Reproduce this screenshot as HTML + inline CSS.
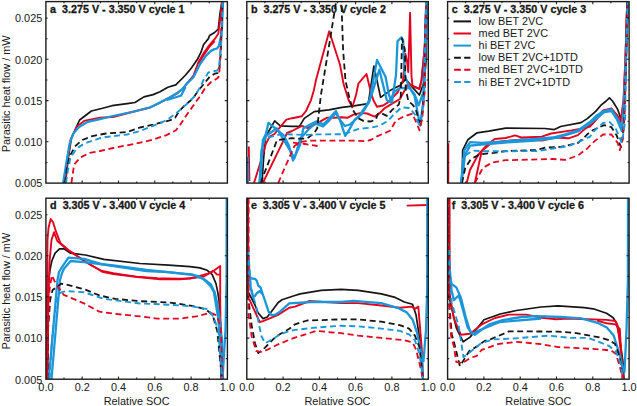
<!DOCTYPE html>
<html><head><meta charset="utf-8"><title>Parasitic heat flow</title>
<style>html,body{margin:0;padding:0;background:#fff;}body{width:637px;height:406px;overflow:hidden;font-family:"Liberation Sans",sans-serif;}svg{display:block;}</style>
</head><body>
<svg width="637" height="406" viewBox="0 0 637 406">
<rect width="637" height="406" fill="#fff"/>
<defs>
<clipPath id="cpa"><rect x="45.9" y="1.6" width="181.5" height="181.5"/></clipPath>
<clipPath id="cpb"><rect x="246.8" y="1.6" width="181.5" height="181.5"/></clipPath>
<clipPath id="cpc"><rect x="447.6" y="1.6" width="181.5" height="181.5"/></clipPath>
<clipPath id="cpd"><rect x="45.9" y="198.2" width="181.5" height="181"/></clipPath>
<clipPath id="cpe"><rect x="246.8" y="198.2" width="181.5" height="181"/></clipPath>
<clipPath id="cpf"><rect x="447.6" y="198.2" width="181.5" height="181"/></clipPath>
</defs>
<g clip-path="url(#cpa)">
<polyline points="65.5,183 68,160 71.4,138.2 79.6,120 91.4,111 101.6,108.5 112,105.7 129,103.4 135,102.5 143.9,96.9 153.1,94.6 160,91.7 167.9,87.3 175.8,84.9 185.6,75 191.2,68.2 197.3,59.6 201,52.2 203.5,44.8 205.9,41.7 208.4,38.6 209.6,35.5 214.6,32.5 218.3,29 220,13.3 222.2,0" fill="none" stroke="#151515" stroke-width="1.7" stroke-linejoin="round"/>
<polyline points="65,183 67.5,160 70.5,140 76.9,126.4 84.1,120.9 100,117.6 113,117 134,111.5 150,107.5 160,102.6 169.9,97.7 176.7,93.7 182.7,88.8 186.6,83.9 193.5,75.5 198.5,62 203.5,53.4 209.6,44.8 214.6,39.2 218.3,33.7 220.4,17.7 222.2,0" fill="none" stroke="#e4031f" stroke-width="1.9" stroke-linejoin="round"/>
<polyline points="198.5,63.5 203.5,55.5 209.6,46.5 214.6,41" fill="none" stroke="#e4031f" stroke-width="1.9" stroke-linejoin="round"/>
<polyline points="63.2,183 66,165 69.6,143.7 73.2,133.7 78.7,127.3 87.8,121.8 100,119.1 113,116 134,111.5 150,107.5 160,102.6 169.9,97.3 176.7,93.3 182.7,88.8 186.6,83.9 193.6,77 199.8,64.5 205.9,55.9 210.9,50.9 214.6,49.1 217,48.5 218.9,46 220.7,37.4 222,28 223,0" fill="none" stroke="#1b97d9" stroke-width="2.3" stroke-linejoin="round"/>
<polyline points="167,100 175,97.5 181,95.7 185.5,87" fill="none" stroke="#1b97d9" stroke-width="2.3" stroke-linejoin="round"/>
<polyline points="65,183 67,168 69.6,156.4 75,146.4 82.3,140 91.4,136.4 100,134.6 106.2,133.5 127,132 140,127.5 153.1,124.7 170.5,120.1 175.1,117.8 179,111.5 185,105 192.5,99 198,91 203,85 209.6,76.8 214.6,73.7 217.6,73.1 219.5,67 220.7,54.6 221.7,30 222.5,0" fill="none" stroke="#151515" stroke-width="1.8" stroke-dasharray="6 3.6" stroke-linejoin="round"/>
<polyline points="71.4,183 74.1,164.6 80.5,157.4 89.6,152.8 100,151 113,148 134,144 152.5,139.8 166.4,135.1 175.7,130.5 180,125 186.6,115 193,106 200,96.2 205.5,87.6 211.1,82 216.6,78.7 218.3,77.5 219.5,70.6 220.5,50 221.8,15 222.6,0" fill="none" stroke="#e4031f" stroke-width="1.8" stroke-dasharray="6 3.6" stroke-linejoin="round"/>
<polyline points="66,183 68,170 70.5,157.4 76.9,148.3 84.1,143.7 100,138.2 106,137 127,134.5 140,131 153.1,125.9 167,120.1 177,112.5 187.9,103 194.8,96 200,87.5 203.5,80 208.4,72.5 213.3,71.3 217,70.6 218.9,68.2 220.1,54.6 221.3,42.3 222.3,10 222.8,0" fill="none" stroke="#1b97d9" stroke-width="1.9" stroke-dasharray="6 3.6" stroke-linejoin="round"/>
</g>
<rect x="45.9" y="1.6" width="181.5" height="181.5" fill="none" stroke="#1c1c1c" stroke-width="1.4"/>
<path d="M64 183.1v-1.6M64 1.6v1.6M82.2 183.1v-2.6M82.2 1.6v2.6M100.3 183.1v-1.6M100.3 1.6v1.6M118.5 183.1v-2.6M118.5 1.6v2.6M136.7 183.1v-1.6M136.7 1.6v1.6M154.8 183.1v-2.6M154.8 1.6v2.6M172.9 183.1v-1.6M172.9 1.6v1.6M191.1 183.1v-2.6M191.1 1.6v2.6M209.2 183.1v-1.6M209.2 1.6v1.6M45.9 162.5h1.6M227.4 162.5h-1.6M45.9 141.8h2.6M227.4 141.8h-2.6M45.9 121.2h1.6M227.4 121.2h-1.6M45.9 100.6h2.6M227.4 100.6h-2.6M45.9 80h1.6M227.4 80h-1.6M45.9 59.3h2.6M227.4 59.3h-2.6M45.9 38.7h1.6M227.4 38.7h-1.6M45.9 18.1h1.6M227.4 18.1h-1.6" stroke="#1c1c1c" stroke-width="1.1" fill="none"/>
<text x="50.1" y="12.7" font-family='"Liberation Sans", sans-serif' font-size="10.75" font-weight="bold" fill="#171717" stroke="#171717" stroke-width="0.3" xml:space="preserve">a  3.275 V - 3.350 V cycle 1</text>
<text x="42.3" y="187.4" text-anchor="end" font-family='"Liberation Sans", sans-serif' font-size="10.9" fill="#171717">0.005</text>
<text x="42.3" y="146.2" text-anchor="end" font-family='"Liberation Sans", sans-serif' font-size="10.9" fill="#171717">0.010</text>
<text x="42.3" y="104.9" text-anchor="end" font-family='"Liberation Sans", sans-serif' font-size="10.9" fill="#171717">0.015</text>
<text x="42.3" y="63.6" text-anchor="end" font-family='"Liberation Sans", sans-serif' font-size="10.9" fill="#171717">0.020</text>
<text x="42.3" y="22.4" text-anchor="end" font-family='"Liberation Sans", sans-serif' font-size="10.9" fill="#171717">0.025</text>
<g clip-path="url(#cpb)">
<polyline points="262,183 263.5,160 265.5,137 274.7,120.9 280.3,125.9 292,126.4 299.4,126.4 304.3,118.4 314.2,111.6 328.9,109.8 342,107.3 352.3,106.1 368.3,103.6 373.9,66 380.6,97.4 390,90.6 400.2,85.3 405.7,79.1 412.5,87.4 419.4,95 423.6,83.3 426.3,60 427,0" fill="none" stroke="#151515" stroke-width="1.7" stroke-linejoin="round"/>
<polyline points="248.8,146.4 249.4,181" fill="none" stroke="#e4031f" stroke-width="1.9" stroke-linejoin="round"/>
<polyline points="254,183 259.7,164.8 265.9,143.9 269.6,136.5 274.5,134 279,128.3 286.4,119.7 292,118.2 301.9,116.2 306,111 310.8,100.7 313.8,90.4 316,80 329.2,31.3 340,64.8 343.7,84.5 348.6,100 352.3,107.3 356,95 358.5,83.3 366.5,74 369.6,87 373.3,100 377,106.7 383.1,105.5 388,102.4 398,92 403,80 405.4,53.8 407.1,61.7 408.2,72 410.1,12.8 411.5,76 412.5,86 419.4,88.8 421.5,80.5 424.5,50 426.3,0" fill="none" stroke="#e4031f" stroke-width="1.9" stroke-linejoin="round"/>
<polyline points="262.8,183 281.9,143.9 287,133 292,131 301.9,125.9 307.8,128.1 315.2,124.4 327.1,117.7 335.1,117.8 342,117.2 347.4,117.8 353.5,114.7 360.9,112.9 367.1,113.5 374.5,116.6 379.4,113.5 384.3,108.5 390,104.9 400,99 408.4,83.3 412.5,86 419.4,88.8 421.5,80.5 425.3,40 426.5,0" fill="none" stroke="#e4031f" stroke-width="1.9" stroke-linejoin="round"/>
<polyline points="247.7,157 247.8,183" fill="none" stroke="#1b97d9" stroke-width="2.3" stroke-linejoin="round"/>
<polyline points="260.3,183 262.8,140.2 265.9,134 268.5,122.8 276,129 284,135.7 288.9,145.6 293,160.5 300,145 303.4,128.1 316.7,121.4 323.4,124.4 327.8,120 336,111.1 340.4,121.4 345.2,136 348.6,130.7 354.8,119.6 362.2,113.5 369.6,101.2 377,59.9 385.6,77.1 389,95 391.9,102.5 396,75 397.5,41.3 401.4,37.4 403.1,40.2 404.8,76 409.8,88.1 414.6,96 417.5,112 420.2,125.5 423.1,104 425,70 427,0" fill="none" stroke="#1b97d9" stroke-width="2.3" stroke-linejoin="round"/>
<polyline points="259.5,183 261.5,150 266,136 271.6,132 276.8,128.5 294.5,158 300.4,138.4 308,130 315.2,123.5 323,126.5 327.8,122 333,116.2 336,113 340,120 344.9,126 349.9,124.5 358.5,117 364.6,108 370.8,97.5 379.4,69.7 386.8,100 390,102 394,92 400,88 409.8,88.1 414.6,94.3 418.7,105.3 423.6,91.5 426.5,0" fill="none" stroke="#1b97d9" stroke-width="2.3" stroke-linejoin="round"/>
<polyline points="260.6,183 277,140.2 281.9,139.5 292,138.1 299.4,138.7 306.8,138.7 314.2,133.2 317.2,128.3 320.9,95 330,40 338,-10 341,-10 343.1,50 345.5,80.8 349.9,100 353.5,111 358.5,118.4 363.4,120.9 370.8,121.5 375.7,119.6 378.2,113.5 381.9,113.5 386.8,115.9 391.9,110.1 398.8,104.6 400.8,95.7 402,38.5 404.8,49.3 405.7,88.8 408.4,101.2 412.5,104.6 415.3,108 419.4,121.8 421.5,120.5 424.3,88.8 426,0" fill="none" stroke="#151515" stroke-width="1.8" stroke-dasharray="6 3.6" stroke-linejoin="round"/>
<polyline points="278.2,183 294.2,146.3 300,142 310.5,140.6 342,140.6 352.3,140.6 364.6,141.2 370.8,140 377,136.3 384.3,133.2 390,130.7 396,120.5 402.9,117 407.9,115.2 412.3,113.7 416.6,123.1 419.5,130.3 422.2,119 425,88.8 426,0" fill="none" stroke="#e4031f" stroke-width="1.8" stroke-dasharray="6 3.6" stroke-linejoin="round"/>
<polyline points="293,142.6 305,144 317.6,146" fill="none" stroke="#e4031f" stroke-width="1.8" stroke-dasharray="6 3.6" stroke-linejoin="round"/>
<polyline points="259.5,183 262.5,145 266,138 276,135.5 282,134 304.3,135 316.6,134.4 342,134.2 349.9,132 358.5,128.9 370.8,127.6 379.4,125.8 388,120.9 393.3,115 401.5,107.4 409.8,108 415.3,115 418.7,123.9 421.5,116.3 424.3,94.3 426,0" fill="none" stroke="#1b97d9" stroke-width="1.9" stroke-dasharray="6 3.6" stroke-linejoin="round"/>
</g>
<rect x="246.8" y="1.6" width="181.5" height="181.5" fill="none" stroke="#1c1c1c" stroke-width="1.4"/>
<path d="M264.9 183.1v-1.6M264.9 1.6v1.6M283.1 183.1v-2.6M283.1 1.6v2.6M301.2 183.1v-1.6M301.2 1.6v1.6M319.4 183.1v-2.6M319.4 1.6v2.6M337.5 183.1v-1.6M337.5 1.6v1.6M355.6 183.1v-2.6M355.6 1.6v2.6M373.8 183.1v-1.6M373.8 1.6v1.6M391.9 183.1v-2.6M391.9 1.6v2.6M410.1 183.1v-1.6M410.1 1.6v1.6M246.8 162.5h1.6M428.2 162.5h-1.6M246.8 141.8h2.6M428.2 141.8h-2.6M246.8 121.2h1.6M428.2 121.2h-1.6M246.8 100.6h2.6M428.2 100.6h-2.6M246.8 80h1.6M428.2 80h-1.6M246.8 59.3h2.6M428.2 59.3h-2.6M246.8 38.7h1.6M428.2 38.7h-1.6M246.8 18.1h1.6M428.2 18.1h-1.6" stroke="#1c1c1c" stroke-width="1.1" fill="none"/>
<text x="250.9" y="12.7" font-family='"Liberation Sans", sans-serif' font-size="10.75" font-weight="bold" fill="#171717" stroke="#171717" stroke-width="0.3" xml:space="preserve">b  3.275 V - 3.350 V cycle 2</text>
<g clip-path="url(#cpc)">
<polyline points="462,183 462.5,160 462.7,150.2 467.8,139.8 477.1,132.8 488.7,131.2 505.7,128.1 545,128.5 554.4,129.6 560.6,126.5 581,122.6 587.3,118.6 595.7,111.4 601,105.2 606.2,101 609.4,97.8 612.5,101 617.7,109.4 620.9,118.8 623,111.4 625.1,90.5 627,0" fill="none" stroke="#151515" stroke-width="1.7" stroke-linejoin="round"/>
<polyline points="448.3,143.2 448.3,183" fill="none" stroke="#e4031f" stroke-width="1.9" stroke-linejoin="round"/>
<polyline points="466.7,183 470,170 478,155 487.5,144.4 494.7,139 505.7,138 515.1,135.4 521.4,137.5 541.8,136.7 551.2,133.5 571.6,130.4 584.2,128.1 590,126.5 595,121 603,110.4 611.4,108.3 616.7,114.6 620.9,120.9 623.5,100 625.3,60 627.3,0" fill="none" stroke="#e4031f" stroke-width="1.9" stroke-linejoin="round"/>
<polyline points="474.8,183 481.7,151.3 491,143.2 505,141 523,139.5 541.8,140.6 555.9,137.5 568.5,138.3 577.9,135.1 584.2,129.6 592,124 603,112 611.4,110 617.2,117 620.6,122 623.6,102 625.4,60 627.3,0" fill="none" stroke="#e4031f" stroke-width="1.9" stroke-linejoin="round"/>
<polyline points="460.9,183 463,165 464.4,150.2 470.1,142.1 481.7,142.8 504.9,141.4 521.4,139.8 541.8,138.3 552.8,137.5 565.4,134.3 577.9,130.4 590,122 596,116 603,111.4 611.4,109.4 617.7,118.8 621.9,129.3 624.2,100 625.9,60 627.8,0" fill="none" stroke="#1b97d9" stroke-width="2.3" stroke-linejoin="round"/>
<polyline points="461.5,183 465,155 470.1,145.6 481.7,144.5 504.9,142.5 535,140.5 558.1,137.5 577.9,131.5 590,123.5 604.4,112 611.4,111 617.2,120 621.8,131 624.4,100 626,60 627.8,0" fill="none" stroke="#1b97d9" stroke-width="2.3" stroke-linejoin="round"/>
<polyline points="462,183 465.2,168 470.8,159.2 479.6,154.4 494,152.8 505.7,151.1 537.1,150 545,147.7 560.6,146.9 577.9,143 584.2,137.5 587.3,134.3 592.6,130.3 604.1,125.1 611.4,127.2 616.7,135.6 620.9,147.1 624,126.1 626,60 627.5,0" fill="none" stroke="#151515" stroke-width="1.8" stroke-dasharray="6 3.6" stroke-linejoin="round"/>
<polyline points="474.8,183 482.8,168 492.4,162.4 505.7,160.2 552.8,159 565.4,159.9 577.9,155.5 587.3,148.5 592.6,142.9 603,134.5 611.4,134.5 617.7,142.9 619.8,150.2 623,138.7 625.1,101 626,60 628,0" fill="none" stroke="#e4031f" stroke-width="1.8" stroke-dasharray="6 3.6" stroke-linejoin="round"/>
<polyline points="460.9,183 463.2,157.1 472.5,150.6 484,151.3 537.1,151.1 552.8,148.5 568.5,146.1 577.9,142.2 590,136.7 592.6,132.4 603,123 609.4,121.9 615.6,128.2 621.9,142.9 625.1,121.9 626,60 628,0" fill="none" stroke="#1b97d9" stroke-width="1.9" stroke-dasharray="6 3.6" stroke-linejoin="round"/>
</g>
<rect x="447.6" y="1.6" width="181.5" height="181.5" fill="none" stroke="#1c1c1c" stroke-width="1.4"/>
<path d="M465.7 183.1v-1.6M465.7 1.6v1.6M483.9 183.1v-2.6M483.9 1.6v2.6M502 183.1v-1.6M502 1.6v1.6M520.2 183.1v-2.6M520.2 1.6v2.6M538.3 183.1v-1.6M538.3 1.6v1.6M556.5 183.1v-2.6M556.5 1.6v2.6M574.6 183.1v-1.6M574.6 1.6v1.6M592.8 183.1v-2.6M592.8 1.6v2.6M610.9 183.1v-1.6M610.9 1.6v1.6M447.6 162.5h1.6M629.1 162.5h-1.6M447.6 141.8h2.6M629.1 141.8h-2.6M447.6 121.2h1.6M629.1 121.2h-1.6M447.6 100.6h2.6M629.1 100.6h-2.6M447.6 80h1.6M629.1 80h-1.6M447.6 59.3h2.6M629.1 59.3h-2.6M447.6 38.7h1.6M629.1 38.7h-1.6M447.6 18.1h1.6M629.1 18.1h-1.6" stroke="#1c1c1c" stroke-width="1.1" fill="none"/>
<text x="451.8" y="12.7" font-family='"Liberation Sans", sans-serif' font-size="10.75" font-weight="bold" fill="#171717" stroke="#171717" stroke-width="0.3" xml:space="preserve">c  3.275 V - 3.350 V cycle 3</text>
<g clip-path="url(#cpd)">
<polyline points="47.3,379 47.8,330 48.4,283 50,270 51.8,261 55.1,253.2 59.5,248.8 64,248.8 70.6,253.2 85.4,255 103.9,259.3 140,263.5 168.7,265.1 190,266.6 199.9,267.9 207.2,270.3 212.2,274.6 215.9,283.3 217.7,291.9 219,300 221,330 222.5,379" fill="none" stroke="#151515" stroke-width="1.7" stroke-linejoin="round"/>
<polyline points="46.8,379 47,300 47.5,240 48.5,228 50.7,219 53,222 56.2,232.2 60.6,243.3 68.4,249.9 84,261 92.3,266 102.2,271 113.3,273.3 135.4,276.6 157.6,278.1 177.6,278.8 190,278.5 199.9,275.9 208.5,273.4 213.4,270.9 220.2,266 220.2,300 221,379" fill="none" stroke="#e4031f" stroke-width="1.9" stroke-linejoin="round"/>
<polyline points="47.6,379 48,330 48.4,300 49.5,262 51.5,240 54,232.2 57.3,241 66.2,248.8 84,260.5 102.2,271.8 113.3,274 140,277.3 160,279.2 180.3,279.3 203.4,276.7 213.4,270.9 215.2,272.8 217.1,274.6 220.2,274.6" fill="none" stroke="#e4031f" stroke-width="1.9" stroke-linejoin="round"/>
<polyline points="48.8,379 57.5,280 59,272 61.7,267.6 68.4,257.7 84,258.8 102.2,264.4 146.5,271 168.7,272.1 190,274.6 197.4,275.9 204.8,279.6 210.9,284.5 214.6,291.9 216.5,300 219,315 222,340 223,379" fill="none" stroke="#1b97d9" stroke-width="2.3" stroke-linejoin="round"/>
<polyline points="51.5,379 60,280 62,273 64,268.8 70.6,261 84,262.2 113.3,265.5 146.5,269.9 179.8,273.3 191.9,274.4 203.4,279 210.4,286 213.9,292 218.5,320 222,379" fill="none" stroke="#1b97d9" stroke-width="2.3" stroke-linejoin="round"/>
<polyline points="222.5,379 225.5,330 226.6,280 226.7,198" fill="none" stroke="#1b97d9" stroke-width="2.3" stroke-linejoin="round"/>
<polyline points="47.5,379 48,330 50.2,299.7 52.6,289.9 61.2,283.7 66.2,284.6 85.4,289.6 99.2,295.4 115.4,298.9 140,301.2 168.7,302.4 191.9,305.8 205.8,309.3 212.7,315.1 217.3,331.3 222,379" fill="none" stroke="#151515" stroke-width="1.8" stroke-dasharray="6 3.6" stroke-linejoin="round"/>
<polyline points="47.2,379 48,330 49.5,290 51.8,275.4 54.5,281 57.5,286.2 63.7,294.8 84,303.4 99.2,311.6 115.4,313.9 140,316.3 157.1,318.6 180.3,318.6 196.5,316.3 210.4,312.8 216.2,315.1 220.8,326.7 222.5,379" fill="none" stroke="#e4031f" stroke-width="1.8" stroke-dasharray="6 3.6" stroke-linejoin="round"/>
<polyline points="49.5,379 52,340 55,310 58.8,294.8 61.2,292.3 66.2,291.1 84,292.3 92.3,295 103.9,298.9 140,303.5 168.7,304.7 191.9,306.3 208,309.3 213.9,317.4 218.5,331.3 222,379" fill="none" stroke="#1b97d9" stroke-width="1.9" stroke-dasharray="6 3.6" stroke-linejoin="round"/>
</g>
<rect x="45.9" y="198.2" width="181.5" height="181" fill="none" stroke="#1c1c1c" stroke-width="1.4"/>
<path d="M64 379.2v-1.6M64 198.2v1.6M82.2 379.2v-2.6M82.2 198.2v2.6M100.3 379.2v-1.6M100.3 198.2v1.6M118.5 379.2v-2.6M118.5 198.2v2.6M136.7 379.2v-1.6M136.7 198.2v1.6M154.8 379.2v-2.6M154.8 198.2v2.6M172.9 379.2v-1.6M172.9 198.2v1.6M191.1 379.2v-2.6M191.1 198.2v2.6M209.2 379.2v-1.6M209.2 198.2v1.6M45.9 358.6h1.6M227.4 358.6h-1.6M45.9 338.1h2.6M227.4 338.1h-2.6M45.9 317.5h1.6M227.4 317.5h-1.6M45.9 296.9h2.6M227.4 296.9h-2.6M45.9 276.4h1.6M227.4 276.4h-1.6M45.9 255.8h2.6M227.4 255.8h-2.6M45.9 235.2h1.6M227.4 235.2h-1.6M45.9 214.7h1.6M227.4 214.7h-1.6" stroke="#1c1c1c" stroke-width="1.1" fill="none"/>
<text x="50.1" y="209.3" font-family='"Liberation Sans", sans-serif' font-size="10.75" font-weight="bold" fill="#171717" stroke="#171717" stroke-width="0.3" xml:space="preserve">d  3.305 V - 3.400 V cycle 4</text>
<text x="42.3" y="383.5" text-anchor="end" font-family='"Liberation Sans", sans-serif' font-size="10.9" fill="#171717">0.005</text>
<text x="42.3" y="342.4" text-anchor="end" font-family='"Liberation Sans", sans-serif' font-size="10.9" fill="#171717">0.010</text>
<text x="42.3" y="301.2" text-anchor="end" font-family='"Liberation Sans", sans-serif' font-size="10.9" fill="#171717">0.015</text>
<text x="42.3" y="260.1" text-anchor="end" font-family='"Liberation Sans", sans-serif' font-size="10.9" fill="#171717">0.020</text>
<text x="42.3" y="219" text-anchor="end" font-family='"Liberation Sans", sans-serif' font-size="10.9" fill="#171717">0.025</text>
<text x="45.9" y="391.3" text-anchor="middle" font-family='"Liberation Sans", sans-serif' font-size="10.9" fill="#171717">0.0</text>
<text x="82.2" y="391.3" text-anchor="middle" font-family='"Liberation Sans", sans-serif' font-size="10.9" fill="#171717">0.2</text>
<text x="118.5" y="391.3" text-anchor="middle" font-family='"Liberation Sans", sans-serif' font-size="10.9" fill="#171717">0.4</text>
<text x="154.8" y="391.3" text-anchor="middle" font-family='"Liberation Sans", sans-serif' font-size="10.9" fill="#171717">0.6</text>
<text x="191.1" y="391.3" text-anchor="middle" font-family='"Liberation Sans", sans-serif' font-size="10.9" fill="#171717">0.8</text>
<text x="227.4" y="391.3" text-anchor="middle" font-family='"Liberation Sans", sans-serif' font-size="10.9" fill="#171717">1.0</text>
<text x="136.7" y="404.6" text-anchor="middle" font-family='"Liberation Sans", sans-serif' font-size="10.9" fill="#171717">Relative SOC</text>
<g clip-path="url(#cpe)">
<polyline points="248.2,198 248.3,292.2 251.4,298 255,305 258,312.8 263,318.6 267.3,317 270.6,312.8 278,302.7 282,299.8 294.9,295.5 300.2,293.9 321.1,290.4 341,289.3 358.1,290.4 381.3,293.9 395.2,297.4 404.4,302 412.5,304.3 416,314.7 419.5,337.9 423,379" fill="none" stroke="#151515" stroke-width="1.7" stroke-linejoin="round"/>
<polyline points="248,198 248,298.8 249.7,300.2 254.7,311.1 259.7,322 263.1,321.1 278,314.9 289.3,307.7 295,306.6 309.5,301 341,303.1 358.1,303.1 381.3,305.5 399.8,307.8 411.4,306.6 414.9,308.9 418.3,306.6 421.8,349.4 423,379" fill="none" stroke="#e4031f" stroke-width="1.9" stroke-linejoin="round"/>
<polyline points="406.8,205.6 427,205" fill="none" stroke="#e4031f" stroke-width="1.9" stroke-linejoin="round"/>
<polyline points="248.1,247 248.6,265 249.4,276.7 252,278.5 255,278.9 256.8,280.7 258.3,285.8 260.5,287.3 262.7,294 265.7,302.8 268.6,311.7 271.6,315.4 275.3,314.7 280,311.7 289.3,303.3 311.8,302 341,302 353.5,300.8 381.3,303.1 397.5,307.8 406.8,312.4 412.5,319.4 417.2,333.2 421.8,356.4 423,379" fill="none" stroke="#1b97d9" stroke-width="2.3" stroke-linejoin="round"/>
<polyline points="248.7,262 249.5,275 250.9,289.5 253.1,296.9 254.6,296.2 256.8,293.2 259.8,291 262.2,294" fill="none" stroke="#1b97d9" stroke-width="2.3" stroke-linejoin="round"/>
<polyline points="423.4,362 426,330 427.2,290 427.3,198" fill="none" stroke="#1b97d9" stroke-width="2.3" stroke-linejoin="round"/>
<polyline points="248.2,198 248.3,298.8 251.7,325.4 255,343.2 258.3,353.1 265,347.6 276,336.5 289.3,328.8 295,324.3 307.2,320.5 341,319.4 358.1,319.4 381.3,321.7 399.8,325.1 409.1,328.6 414.9,335.6 419.5,347.1 423,379" fill="none" stroke="#151515" stroke-width="1.8" stroke-dasharray="6 3.6" stroke-linejoin="round"/>
<polyline points="248.6,198 248.4,314.3 251.7,336.5 256.1,350.9 260.5,352 267.2,349.8 278.3,344.3 289.3,339.8 295,337.6 316.4,330.9 341,333.2 358.1,335.6 381.3,337.9 404.4,340.2 412.5,342.5 416,349.4 419.5,363.3 423,379" fill="none" stroke="#e4031f" stroke-width="1.8" stroke-dasharray="6 3.6" stroke-linejoin="round"/>
<polyline points="249,260 250.5,285 253,296 256.4,306.9 257.2,314.4 258.9,324.5 261.6,336.5 265,343.2 269.4,341 280.5,334.3 289.3,331 295,329.9 316.4,327.5 341,325.8 358.1,326.3 381.3,328.6 399.8,330.9 409.1,334.4 414.9,340.2 419.5,354.1 423,379" fill="none" stroke="#1b97d9" stroke-width="1.9" stroke-dasharray="6 3.6" stroke-linejoin="round"/>
</g>
<rect x="246.8" y="198.2" width="181.5" height="181" fill="none" stroke="#1c1c1c" stroke-width="1.4"/>
<path d="M264.9 379.2v-1.6M264.9 198.2v1.6M283.1 379.2v-2.6M283.1 198.2v2.6M301.2 379.2v-1.6M301.2 198.2v1.6M319.4 379.2v-2.6M319.4 198.2v2.6M337.5 379.2v-1.6M337.5 198.2v1.6M355.6 379.2v-2.6M355.6 198.2v2.6M373.8 379.2v-1.6M373.8 198.2v1.6M391.9 379.2v-2.6M391.9 198.2v2.6M410.1 379.2v-1.6M410.1 198.2v1.6M246.8 358.6h1.6M428.2 358.6h-1.6M246.8 338.1h2.6M428.2 338.1h-2.6M246.8 317.5h1.6M428.2 317.5h-1.6M246.8 296.9h2.6M428.2 296.9h-2.6M246.8 276.4h1.6M428.2 276.4h-1.6M246.8 255.8h2.6M428.2 255.8h-2.6M246.8 235.2h1.6M428.2 235.2h-1.6M246.8 214.7h1.6M428.2 214.7h-1.6" stroke="#1c1c1c" stroke-width="1.1" fill="none"/>
<text x="250.9" y="209.3" font-family='"Liberation Sans", sans-serif' font-size="10.75" font-weight="bold" fill="#171717" stroke="#171717" stroke-width="0.3" xml:space="preserve">e  3.305 V - 3.400 V cycle 5</text>
<text x="246.8" y="391.3" text-anchor="middle" font-family='"Liberation Sans", sans-serif' font-size="10.9" fill="#171717">0.0</text>
<text x="283.1" y="391.3" text-anchor="middle" font-family='"Liberation Sans", sans-serif' font-size="10.9" fill="#171717">0.2</text>
<text x="319.4" y="391.3" text-anchor="middle" font-family='"Liberation Sans", sans-serif' font-size="10.9" fill="#171717">0.4</text>
<text x="355.6" y="391.3" text-anchor="middle" font-family='"Liberation Sans", sans-serif' font-size="10.9" fill="#171717">0.6</text>
<text x="391.9" y="391.3" text-anchor="middle" font-family='"Liberation Sans", sans-serif' font-size="10.9" fill="#171717">0.8</text>
<text x="428.2" y="391.3" text-anchor="middle" font-family='"Liberation Sans", sans-serif' font-size="10.9" fill="#171717">1.0</text>
<text x="337.5" y="404.6" text-anchor="middle" font-family='"Liberation Sans", sans-serif' font-size="10.9" fill="#171717">Relative SOC</text>
<g clip-path="url(#cpf)">
<polyline points="449.3,198 449.3,297.8 456.3,327.9 463.2,341.8 470.1,337.1 484,319.8 500.2,314 516.4,310.5 541,307 558.1,305.9 584.3,307.7 593.2,308.8 606.5,313.3 613.2,317.7 616.5,323.3 619.8,338.8 623.1,363.2 624,379" fill="none" stroke="#151515" stroke-width="1.7" stroke-linejoin="round"/>
<polyline points="449.5,198 449.5,293.1 453.9,318.6 460.9,334.8 470.1,333.7 481.7,324.4 495,318 508.8,314.6 526.1,314.6 541.8,317.8 555.9,319.3 568.5,318.5 581.3,319 606.5,319.9 615.4,321 617.6,325.5 620.9,352.1 623.5,379" fill="none" stroke="#e4031f" stroke-width="1.9" stroke-linejoin="round"/>
<polyline points="597,320.5 606.5,323.3 615.4,324.4 619.8,328.8 621,350 622.5,379" fill="none" stroke="#e4031f" stroke-width="1.9" stroke-linejoin="round"/>
<polyline points="448.2,250 448.5,270 451.6,283.9 456.3,287.4 460.9,297.8 465.5,316.3 470.1,331.3 474.8,334.8 484,328 490,324 502.6,320.1 521.4,317 537.1,316.2 560.6,317 581.3,318.4 597.5,322.8 606.8,327.5 613.7,335.6 619.5,354.1 623,369.1 624.5,372 626.5,330 627.9,280 628,198" fill="none" stroke="#1b97d9" stroke-width="2.3" stroke-linejoin="round"/>
<polyline points="449,260 451.6,290.8 453.9,300.1 458.6,295.5 460.9,302.4 467.8,327.9 472.5,333.7 480,330 500,322 541,318.5" fill="none" stroke="#1b97d9" stroke-width="2.3" stroke-linejoin="round"/>
<polyline points="449,198 449.3,304.7 451.8,334.4 453.9,341.8 459.9,366.2 469.5,350.7 477.1,346.4 484.3,341.1 490,339.5 502.6,334.2 508.8,331.4 541,331.5 558.1,331.6 573.2,332.7 581.3,334 599.8,337.4 609.1,340.2 614.9,343.7 619.5,356.4 623,379" fill="none" stroke="#151515" stroke-width="1.8" stroke-dasharray="6 3.6" stroke-linejoin="round"/>
<polyline points="449,198 449.5,311.7 451.1,335.9 453.9,346.4 456.2,361.8 462.2,363.2 470.1,358 476.9,355.8 481.7,349.9 497.9,344.1 516.4,341.8 541,344.1 558.1,347.1 581.3,348.3 599.8,349.4 611.4,350.6 616,354.1 619.5,365.6 623,379" fill="none" stroke="#e4031f" stroke-width="1.8" stroke-dasharray="6 3.6" stroke-linejoin="round"/>
<polyline points="449,250 451.6,302.4 458.6,325.6 463.4,357 469,353 481.5,343 493.3,339.4 516.4,338.3 535,336.7 548.9,335.6 569.7,337.9 588.2,337.9 597.5,341.3 609.1,346 616,351.8 620.6,363.3 623,379" fill="none" stroke="#1b97d9" stroke-width="1.9" stroke-dasharray="6 3.6" stroke-linejoin="round"/>
</g>
<rect x="447.6" y="198.2" width="181.5" height="181" fill="none" stroke="#1c1c1c" stroke-width="1.4"/>
<path d="M465.7 379.2v-1.6M465.7 198.2v1.6M483.9 379.2v-2.6M483.9 198.2v2.6M502 379.2v-1.6M502 198.2v1.6M520.2 379.2v-2.6M520.2 198.2v2.6M538.3 379.2v-1.6M538.3 198.2v1.6M556.5 379.2v-2.6M556.5 198.2v2.6M574.6 379.2v-1.6M574.6 198.2v1.6M592.8 379.2v-2.6M592.8 198.2v2.6M610.9 379.2v-1.6M610.9 198.2v1.6M447.6 358.6h1.6M629.1 358.6h-1.6M447.6 338.1h2.6M629.1 338.1h-2.6M447.6 317.5h1.6M629.1 317.5h-1.6M447.6 296.9h2.6M629.1 296.9h-2.6M447.6 276.4h1.6M629.1 276.4h-1.6M447.6 255.8h2.6M629.1 255.8h-2.6M447.6 235.2h1.6M629.1 235.2h-1.6M447.6 214.7h1.6M629.1 214.7h-1.6" stroke="#1c1c1c" stroke-width="1.1" fill="none"/>
<text x="451.8" y="209.3" font-family='"Liberation Sans", sans-serif' font-size="10.75" font-weight="bold" fill="#171717" stroke="#171717" stroke-width="0.3" xml:space="preserve">f  3.305 V - 3.400 V cycle 6</text>
<text x="447.6" y="391.3" text-anchor="middle" font-family='"Liberation Sans", sans-serif' font-size="10.9" fill="#171717">0.0</text>
<text x="483.9" y="391.3" text-anchor="middle" font-family='"Liberation Sans", sans-serif' font-size="10.9" fill="#171717">0.2</text>
<text x="520.2" y="391.3" text-anchor="middle" font-family='"Liberation Sans", sans-serif' font-size="10.9" fill="#171717">0.4</text>
<text x="556.5" y="391.3" text-anchor="middle" font-family='"Liberation Sans", sans-serif' font-size="10.9" fill="#171717">0.6</text>
<text x="592.8" y="391.3" text-anchor="middle" font-family='"Liberation Sans", sans-serif' font-size="10.9" fill="#171717">0.8</text>
<text x="629.1" y="391.3" text-anchor="middle" font-family='"Liberation Sans", sans-serif' font-size="10.9" fill="#171717">1.0</text>
<text x="538.3" y="404.6" text-anchor="middle" font-family='"Liberation Sans", sans-serif' font-size="10.9" fill="#171717">Relative SOC</text>
<text transform="translate(10.2 93.8) rotate(-90)" text-anchor="middle" font-family='"Liberation Sans", sans-serif' font-size="10.9" fill="#171717">Parasitic heat flow / mW</text>
<text transform="translate(10.2 291.2) rotate(-90)" text-anchor="middle" font-family='"Liberation Sans", sans-serif' font-size="10.9" fill="#171717">Parasitic heat flow / mW</text>
<line x1="453.5" y1="21.4" x2="471" y2="21.4" stroke="#151515" stroke-width="2"/>
<text x="478.6" y="25" font-family='"Liberation Sans", sans-serif' font-size="10.9" fill="#171717">low BET 2VC</text>
<line x1="453.5" y1="33.5" x2="471" y2="33.5" stroke="#e4031f" stroke-width="2"/>
<text x="478.6" y="37.1" font-family='"Liberation Sans", sans-serif' font-size="10.9" fill="#171717">med BET 2VC</text>
<line x1="453.5" y1="45.6" x2="471" y2="45.6" stroke="#1b97d9" stroke-width="2"/>
<text x="478.6" y="49.2" font-family='"Liberation Sans", sans-serif' font-size="10.9" fill="#171717">hi BET 2VC</text>
<line x1="454.1" y1="57.7" x2="470.4" y2="57.7" stroke="#151515" stroke-width="2" stroke-dasharray="6.8 3.3"/>
<text x="478.6" y="61.3" font-family='"Liberation Sans", sans-serif' font-size="10.9" fill="#171717">low BET 2VC+1DTD</text>
<line x1="454.1" y1="69.8" x2="470.4" y2="69.8" stroke="#e4031f" stroke-width="2" stroke-dasharray="6.8 3.3"/>
<text x="478.6" y="73.4" font-family='"Liberation Sans", sans-serif' font-size="10.9" fill="#171717">med BET 2VC+1DTD</text>
<line x1="454.1" y1="81.9" x2="470.4" y2="81.9" stroke="#1b97d9" stroke-width="2" stroke-dasharray="6.8 3.3"/>
<text x="478.6" y="85.5" font-family='"Liberation Sans", sans-serif' font-size="10.9" fill="#171717">hi BET 2VC+1DTD</text>
</svg>
</body></html>
